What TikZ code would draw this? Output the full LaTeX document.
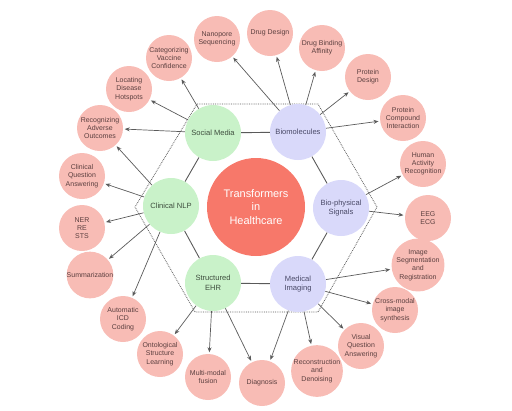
\documentclass[tikz,border=0pt]{standalone}
\usepackage{fontspec}
\setmainfont{Liberation Sans}
\usepackage{xcolor}
\usepackage{tikz}
\usetikzlibrary{arrows.meta}
\pgfdeclarelayer{nodelayer}
\pgfdeclarelayer{edgelayer}
\pgfsetlayers{edgelayer,nodelayer,main}
\definecolor{hubred}{HTML}{F7786A}
\definecolor{mintgreen}{HTML}{C9F2C9}
\definecolor{lavender}{HTML}{D9D9FA}
\definecolor{leafpink}{HTML}{F8BCB5}
\definecolor{wiregray}{HTML}{5A5A5A}
\definecolor{greentext}{HTML}{3E4E3E}
\definecolor{bluetext}{HTML}{4A4A68}
\definecolor{leaftext}{HTML}{5C4040}
\tikzset{
    hub/.style = {circle, fill=hubred, draw=none, minimum size=98bp, inner sep=0pt,
        align=center, text=white, font=\fontsize{11}{13.3}\selectfont},
    green/.style = {circle, fill=mintgreen, draw=none, minimum size=56bp, inner sep=0pt,
        align=center, text=greentext, font=\fontsize{7.6}{9.6}\selectfont},
    blue/.style = {circle, fill=lavender, draw=none, minimum size=56bp, inner sep=0pt,
        align=center, text=bluetext, font=\fontsize{7.6}{9.6}\selectfont},
    leaf/.style = {circle, fill=leafpink, draw=none, minimum size=46bp, inner sep=0pt,
        align=center, text=leaftext, font=\fontsize{7}{8.3}\selectfont},
    link/.style = {draw=wiregray, line width=0.9bp},
    arrow/.style = {draw=wiregray, line width=0.7bp, shorten >=1.5bp,
        -{Stealth[length=5bp, width=4bp]}}
}

\begin{document}
\begin{tikzpicture}[x=1bp, y=-1bp]
    \useasboundingbox (0, 0) rectangle (512, 410);
    \begin{pgfonlayer}{nodelayer}
        \node [style=hub] (0) at (256, 207) {Transformers\\in\\Healthcare};
        \node [style=green] (1) at (213, 133) {Social Media};
        \node [style=blue] (2) at (298, 132) {Biomolecules};
        \node [style=blue] (3) at (341, 208) {Bio-physical\\Signals};
        \node [style=blue] (4) at (298, 284) {Medical\\Imaging};
        \node [style=green] (5) at (213, 283) {Structured\\EHR};
        \node [style=green] (6) at (171, 206) {Clinical NLP};
        \node [style=leaf] (7) at (217, 39) {Nanopore\\Sequencing};
        \node [style=leaf] (8) at (270, 33) {Drug Design};
        \node [style=leaf] (9) at (322, 48) {Drug Binding\\Affinity};
        \node [style=leaf] (10) at (368, 77) {Protein\\Design};
        \node [style=leaf] (11) at (403, 118) {Protein\\Compound\\Interaction};
        \node [style=leaf] (12) at (423, 164) {Human\\Activity\\Recognition};
        \node [style=leaf] (13) at (428, 218) {EEG\\ECG};
        \node [style=leaf] (14) at (418, 265) {Image\\Segmentation\\and\\Registration};
        \node [style=leaf] (15) at (395, 310) {Cross-modal\\image\\synthesis};
        \node [style=leaf] (16) at (361, 346) {Visual\\Question\\Answering};
        \node [style=leaf] (17) at (317, 371) {Reconstruction\\and\\Denoising};
        \node [style=leaf] (18) at (262, 383) {Diagnosis};
        \node [style=leaf] (19) at (208, 377) {Multi-modal\\fusion};
        \node [style=leaf] (20) at (160, 354) {Ontological\\Structure\\Learning};
        \node [style=leaf] (21) at (123, 319) {Automatic\\ICD\\Coding};
        \node [style=leaf] (22) at (90, 275) {Summarization};
        \node [style=leaf] (23) at (82, 228) {NER\\RE\\STS};
        \node [style=leaf] (24) at (82, 176) {Clinical\\Question\\Answering};
        \node [style=leaf] (25) at (100, 128) {Recognizing\\Adverse\\Outcomes};
        \node [style=leaf] (26) at (129, 89) {Locating\\Disease\\Hotspots};
        \node [style=leaf] (27) at (169, 58) {Categorizing\\Vaccine\\Confidence};
    \end{pgfonlayer}
    \begin{pgfonlayer}{edgelayer}
        % dotted hexagon
        \draw [wiregray, densely dotted, line width=0.8bp]
            (197, 104) -- (318, 104) -- (377, 207) -- (318, 312)
            -- (195, 312) -- (135, 207) -- cycle;
        % ring
        \draw [style=link] (1) to (2);
        \draw [style=link] (2) to (3);
        \draw [style=link] (3) to (4);
        \draw [style=link] (4) to (5);
        \draw [style=link] (5) to (6);
        \draw [style=link] (6) to (1);
        % Social Media
        \draw [style=arrow] (1) to (27);
        \draw [style=arrow] (1) to (26);
        \draw [style=arrow] (1) to (25);
        % Biomolecules
        \draw [style=arrow] (2) to (7);
        \draw [style=arrow] (2) to (8);
        \draw [style=arrow] (2) to (9);
        \draw [style=arrow] (2) to (10);
        \draw [style=arrow] (2) to (11);
        % Bio-physical Signals
        \draw [style=arrow] (3) to (12);
        \draw [style=arrow] (3) to (13);
        % Medical Imaging
        \draw [style=arrow] (4) to (14);
        \draw [style=arrow] (4) to (15);
        \draw [style=arrow] (4) to (16);
        \draw [style=arrow] (4) to (17);
        \draw [style=arrow] (4) to (18);
        % Structured EHR
        \draw [style=arrow] (5) to (18);
        \draw [style=arrow] (5) to (19);
        \draw [style=arrow] (5) to (20);
        % Clinical NLP
        \draw [style=arrow] (6) to (25);
        \draw [style=arrow] (6) to (24);
        \draw [style=arrow] (6) to (23);
        \draw [style=arrow] (6) to (22);
        \draw [style=arrow] (6) to (21);
    \end{pgfonlayer}
\end{tikzpicture}
\end{document}
